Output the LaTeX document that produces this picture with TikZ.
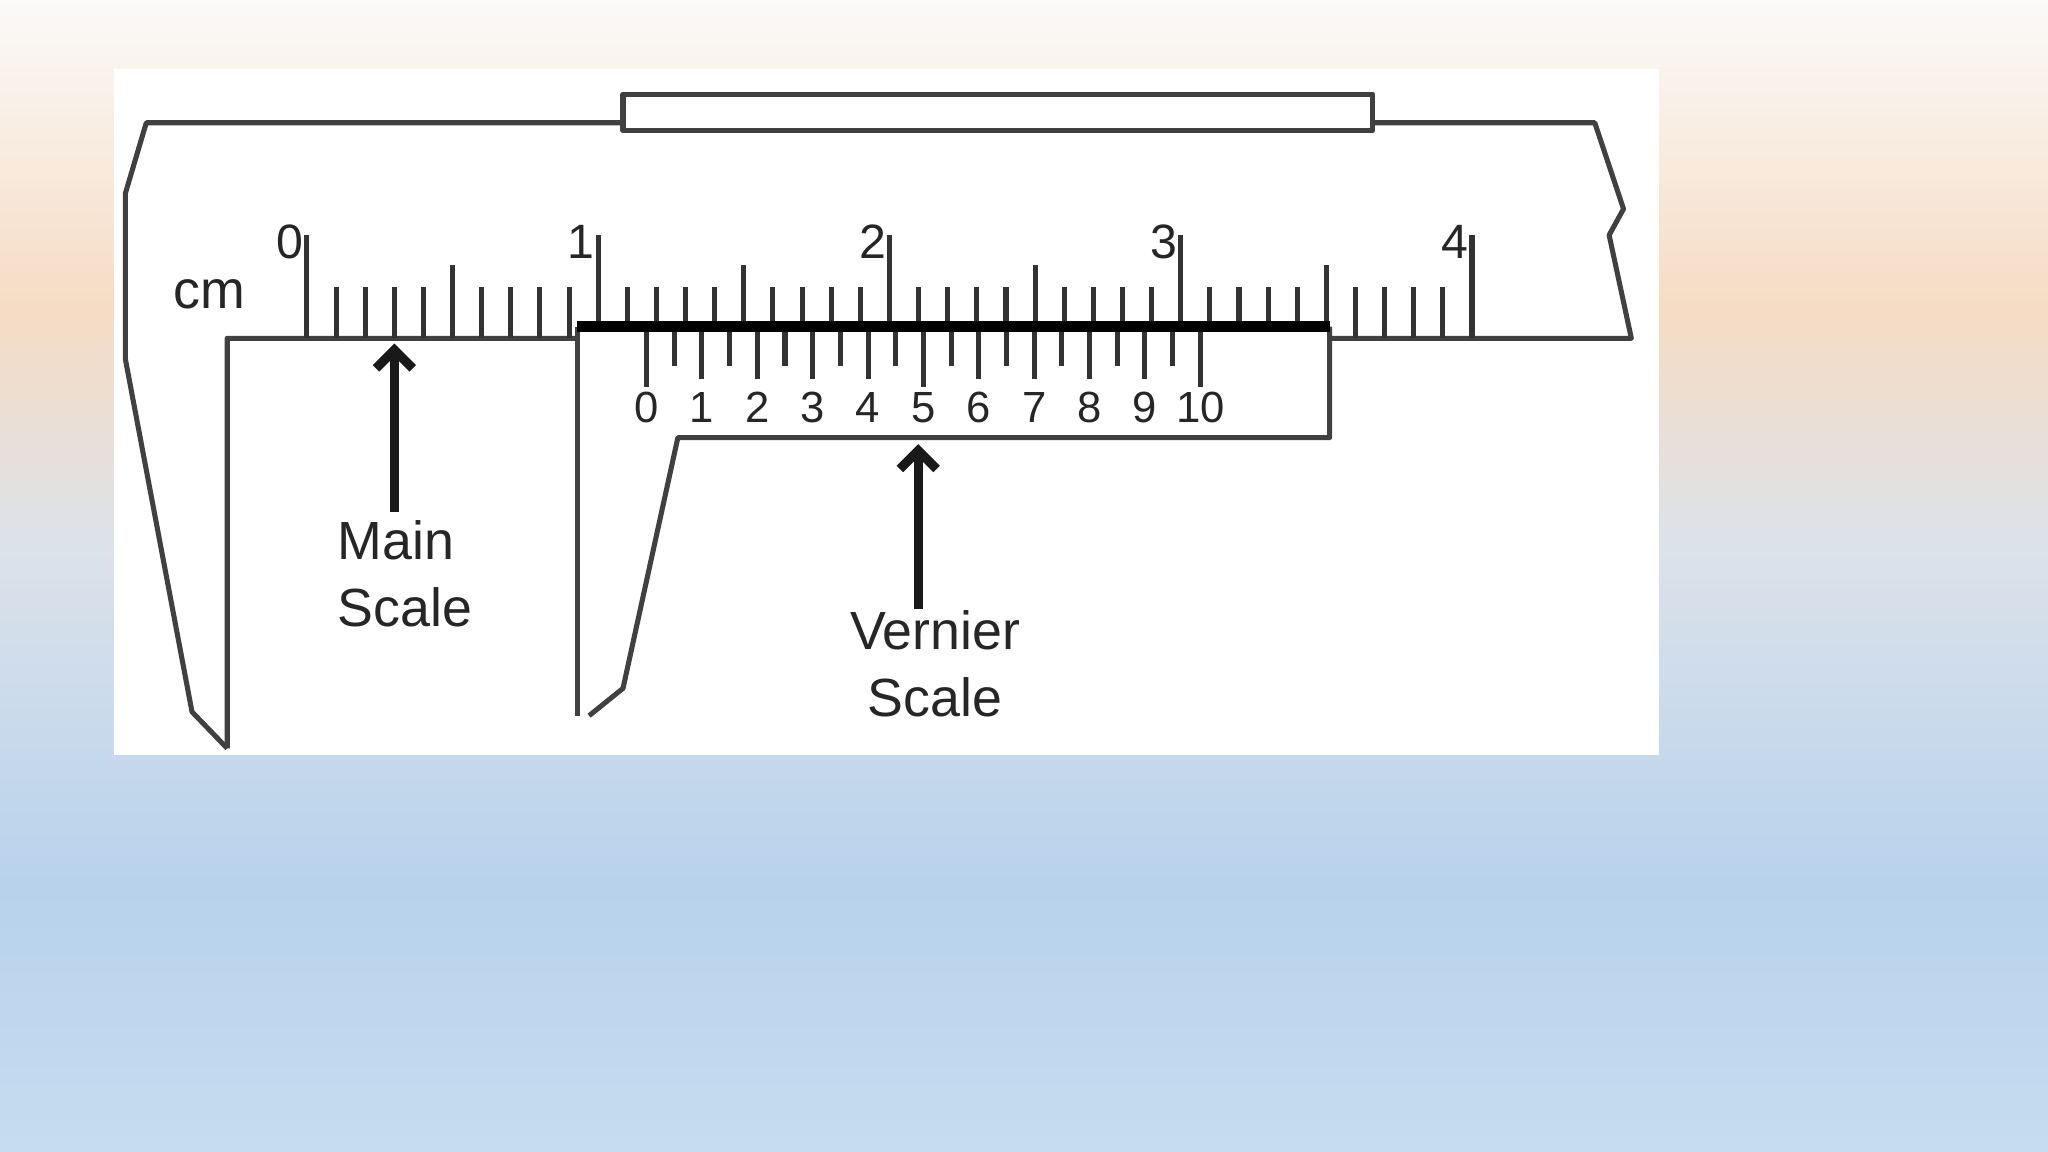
\documentclass[tikz,border=0pt]{standalone}
\usepackage{fontspec}
\setmainfont{Liberation Sans}
\begin{document}
\begin{tikzpicture}[x=0.01cm,y=-0.01cm,
  body/.style={draw=black!75,line width=1.1pt,line join=round},
  tk/.style={draw=black!80,line width=1.1pt},
  num/.style={font=\fontsize{9}{10}\selectfont,inner sep=0pt,text=black!85},
  lab/.style={font=\fontsize{11.7}{14.5}\selectfont,align=left,inner sep=0pt,text=black!85},
  arr/.style={draw=black!90,line width=2pt,-{Straight Barb[length=4pt,width=8pt]}}]
\usetikzlibrary{arrows.meta}
\useasboundingbox (0,0) rectangle (1568,882);
% background
\shade[top color=white!96!gray, bottom color={rgb,255:red,246;green,220;blue,196}] (0,0) rectangle (1568,235);
\shade[top color={rgb,255:red,246;green,220;blue,196}, bottom color={rgb,255:red,220;green,226;blue,234}] (0,234) rectangle (1568,420);
\shade[top color={rgb,255:red,220;green,226;blue,234}, bottom color={rgb,255:red,184;green,210;blue,236}] (0,419) rectangle (1568,680);
\shade[top color={rgb,255:red,184;green,210;blue,236}, bottom color={rgb,255:red,198;green,220;blue,240}] (0,679) rectangle (1568,882);
\fill[white] (87,53) rectangle (1270,578);
% main body
\draw[body] (174,573) -- (174,259) -- (1249,259) -- (1232,180) -- (1243,160) -- (1221,94) -- (1051,94);
\draw[body] (477,94) -- (112,94) -- (96,148) -- (96,275) -- (147,545) -- (174,573);
\draw[body] (477,72) rectangle (1051,100);
% main ticks
\foreach \i in {0,...,40}{
  \pgfmathsetmacro{\xx}{235+\i*22.3}
  \pgfmathsetmacro{\yy}{mod(\i,10)==0 ? 180 : (mod(\i,5)==0 ? 203 : 220)}
  \draw[tk] (\xx,259) -- (\xx,\yy);
}
\foreach \n in {0,...,4}{
  \node[num,font=\fontsize{10.5}{12}\selectfont] at (235+\n*223-13,185) {\n};
}
\node[lab] at (160,225) {cm};
% vernier
\fill[white] (442,250) -- (1018,250) -- (1018,335) -- (519,335) -- (477,527) -- (451,548) -- (442,548) -- cycle;
\draw[body] (442,548) -- (442,250);
\draw[body] (1018,250) -- (1018,335) -- (519,335) -- (477,527) -- (451,548);
\foreach \i in {0,...,20}{
  \pgfmathsetmacro{\xx}{495+\i*21.2}
  \pgfmathsetmacro{\yy}{mod(\i,10)==0 ? 296 : (mod(\i,2)==0 ? 290 : 280)}
  \draw[tk] (\xx,250) -- (\xx,\yy);
}
\draw[black,line width=2.6pt] (442,250) -- (1018,250);
\foreach \n in {0,...,10}{
  \node[num,font=\fontsize{9.5}{11}\selectfont] at (495+\n*42.4,312) {\n};
}
% labels
\coordinate (m0) at (302,392); \coordinate (m1) at (302,263);
\draw[arr] (m0) -- (m1);
\node[lab,anchor=north west] (ms) at (258,398) {Main\\Scale};
\coordinate (v0) at (703,466); \coordinate (v1) at (703,340);
\draw[arr] (v0) -- (v1);
\node[lab,align=center,anchor=north] (vs) at (716,467) {Vernier\\Scale};
\end{tikzpicture}
\end{document}
